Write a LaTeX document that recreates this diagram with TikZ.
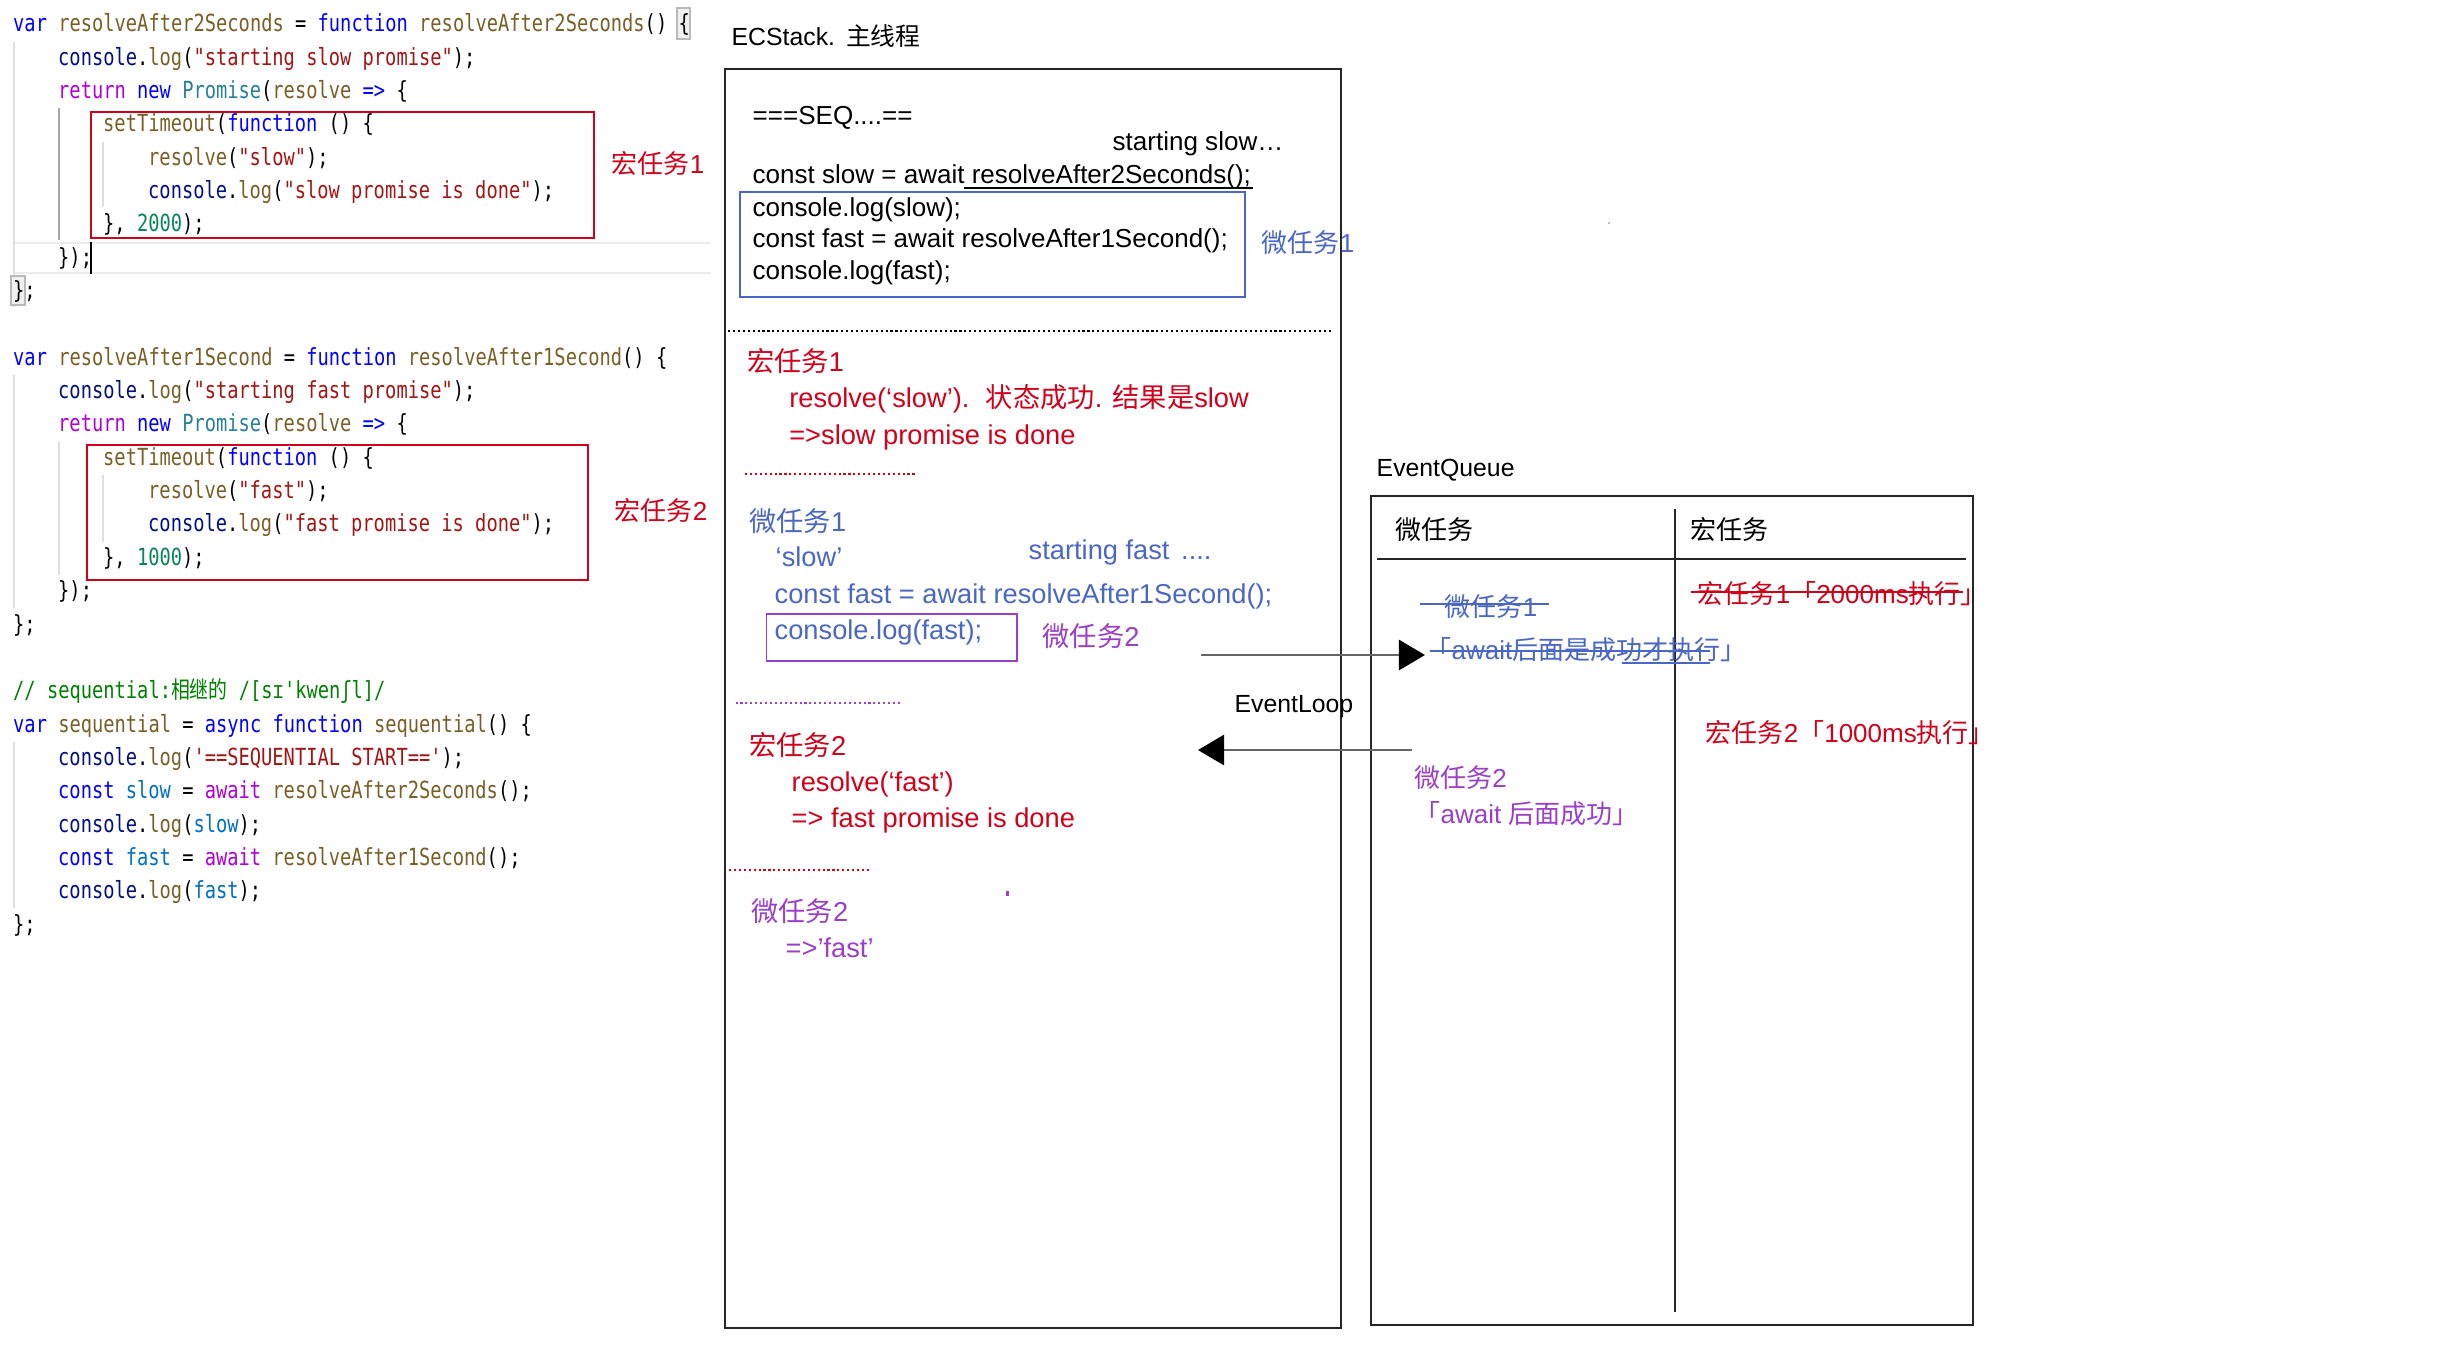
\documentclass[tikz,border=0pt]{standalone}
\usepackage{fontspec}
\usepackage{xcolor}
\usepackage{tikz}
\usetikzlibrary{arrows.meta}
\setmainfont{Liberation Sans}
\newfontfamily\cjk{Noto Sans CJK SC}
\newfontfamily\codefont[FakeStretch=0.795,Ligatures=TeXOff]{DejaVu Sans Mono}
\newfontfamily\codecjk[FakeStretch=0.8]{Noto Sans CJK SC}
\newcommand{\zh}[1]{{\cjk #1}}
\newcommand{\zhc}[1]{{\codecjk #1}}
\definecolor{macroRed}{HTML}{D0021B}
\definecolor{microBlue}{HTML}{4A67C3}
\definecolor{microPurple}{HTML}{9B3FC8}
\definecolor{kwBlue}{HTML}{0000FF}
\definecolor{fnBrown}{HTML}{795E26}
\definecolor{varNavy}{HTML}{001080}
\definecolor{strRed}{HTML}{A31515}
\definecolor{ctlPink}{HTML}{AF00DB}
\definecolor{typeTeal}{HTML}{267F99}
\definecolor{numGreen}{HTML}{098658}
\definecolor{comGreen}{HTML}{008000}
\definecolor{constBlue}{HTML}{0070C1}
\newcommand{\ckw}[1]{\textcolor{kwBlue}{#1}}
\newcommand{\cfn}[1]{\textcolor{fnBrown}{#1}}
\newcommand{\cvar}[1]{\textcolor{varNavy}{#1}}
\newcommand{\cstr}[1]{\textcolor{strRed}{#1}}
\newcommand{\cctl}[1]{\textcolor{ctlPink}{#1}}
\newcommand{\ctype}[1]{\textcolor{typeTeal}{#1}}
\newcommand{\cnum}[1]{\textcolor{numGreen}{#1}}
\newcommand{\ccom}[1]{\textcolor{comGreen}{#1}}
\newcommand{\cconst}[1]{\textcolor{constBlue}{#1}}
\newcommand{\clog}{\cvar{console}.\cfn{log}}

\begin{document}
\begin{tikzpicture}[x=0.01cm,y=-0.01cm,
  font=\fontsize{7.4}{9}\selectfont,
  txt/.style={anchor=west,inner sep=0pt,text height=5.3pt,text depth=0pt},
  note/.style={txt,font=\fontsize{7.75}{9}\selectfont},
  label/.style={txt,font=\fontsize{7.05}{9}\selectfont},
  code/.style={anchor=west,inner sep=0pt,text height=4.6pt,text depth=0pt,
    font=\codefont\fontsize{6.7}{7}\selectfont},
  guide/.style={gray!25,line width=0.4pt},
  sep/.style={line width=0.6pt,dash pattern=on 0.6pt off 0.8pt},
  loop/.style={black!60,line width=0.8pt,-{Triangle[length=0.26cm,width=0.30cm,color=black]}}]
  \def\lh{33.35}
  \def\ly{23.6}
  \fill[white] (0,0) rectangle (2450,1356);
  \useasboundingbox (0,0) rectangle (2450,1356);

  % editor: line highlight, guides, bracket match
  \draw[gray!15,line width=0.8pt] (14,243) -- (711,243) (14,273) -- (711,273);
  \draw[guide] (14,42) -- (14,307) (103,142) -- (103,207);
  \draw[gray!70,line width=0.5pt] (59,108) -- (59,240);
  \draw[guide] (14,375) -- (14,608) (59,442) -- (59,575) (103,475) -- (103,542);
  \draw[guide] (14,742) -- (14,908);
  \draw[gray!55,fill=gray!12,line width=0.4pt] (677,8) rectangle (690,39);
  \draw[gray!55,fill=gray!12,line width=0.4pt] (11,276) rectangle (25,305);
  \draw[black,line width=0.6pt] (91,242) -- (91,274);

  % resolveAfter2Seconds
  \node[code] (l0) at (12.5,\ly+\lh*0) {\ckw{var} \cfn{resolveAfter2Seconds} = \ckw{function} \cfn{resolveAfter2Seconds}() \{};
  \node[code] (l1) at (57.5,\ly+\lh*1) {\clog(\cstr{"starting slow promise"});};
  \node[code] (l2) at (57.5,\ly+\lh*2) {\cctl{return} \ckw{new} \ctype{Promise}(\cfn{resolve} \ckw{=>} \{};
  \node[code] (l3) at (102.5,\ly+\lh*3) {\cfn{setTimeout}(\ckw{function} () \{};
  \node[code] (l4) at (147.5,\ly+\lh*4) {\cfn{resolve}(\cstr{"slow"});};
  \node[code] (l5) at (147.5,\ly+\lh*5) {\clog(\cstr{"slow promise is done"});};
  \node[code] (l6) at (102.5,\ly+\lh*6) {\}, \cnum{2000});};
  \node[code] (l7) at (57.5,\ly+\lh*7) {\});};
  \node[code] (l8) at (12.5,\ly+\lh*8) {\};};
  \draw[macroRed,line width=0.5pt] (91,112) rectangle (594,238);
  \node[txt,text=macroRed] (mt1) at (611,164) {\zh{宏任务}1};

  % resolveAfter1Second
  \node[code] (l10) at (12.5,\ly+\lh*10) {\ckw{var} \cfn{resolveAfter1Second} = \ckw{function} \cfn{resolveAfter1Second}() \{};
  \node[code] (l11) at (57.5,\ly+\lh*11) {\clog(\cstr{"starting fast promise"});};
  \node[code] (l12) at (57.5,\ly+\lh*12) {\cctl{return} \ckw{new} \ctype{Promise}(\cfn{resolve} \ckw{=>} \{};
  \node[code] (l13) at (102.5,\ly+\lh*13) {\cfn{setTimeout}(\ckw{function} () \{};
  \node[code] (l14) at (147.5,\ly+\lh*14) {\cfn{resolve}(\cstr{"fast"});};
  \node[code] (l15) at (147.5,\ly+\lh*15) {\clog(\cstr{"fast promise is done"});};
  \node[code] (l16) at (102.5,\ly+\lh*16) {\}, \cnum{1000});};
  \node[code] (l17) at (57.5,\ly+\lh*17) {\});};
  \node[code] (l18) at (12.5,\ly+\lh*18) {\};};
  \draw[macroRed,line width=0.5pt] (87,445) rectangle (588,580);
  \node[txt,text=macroRed] (mt2) at (614,511) {\zh{宏任务}2};

  % sequential
  \node[code] (l20) at (12.5,\ly+\lh*20) {\ccom{// sequential:\zhc{相继的} /[sɪ'kwenʃl]/}};
  \node[code] (l21) at (12.5,\ly+\lh*21) {\ckw{var} \cfn{sequential} = \ckw{async} \ckw{function} \cfn{sequential}() \{};
  \node[code] (l22) at (57.5,\ly+\lh*22) {\clog(\cstr{'==SEQUENTIAL START=='});};
  \node[code] (l23) at (57.5,\ly+\lh*23) {\ckw{const} \cconst{slow} = \cctl{await} \cfn{resolveAfter2Seconds}();};
  \node[code] (l24) at (57.5,\ly+\lh*24) {\clog(\cconst{slow});};
  \node[code] (l25) at (57.5,\ly+\lh*25) {\ckw{const} \cconst{fast} = \cctl{await} \cfn{resolveAfter1Second}();};
  \node[code] (l26) at (57.5,\ly+\lh*26) {\clog(\cconst{fast});};
  \node[code] (l27) at (12.5,\ly+\lh*27) {\};};

  % ECStack
  \node[label] (ectitle) at (731,36) {ECStack.\hspace{0.45em}\zh{主线程}};
  \draw[black!85,line width=0.6pt] (725,69) rectangle (1341,1328);
  \node[txt] (seq) at (752,115) {===SEQ....==};
  \node[txt] (slowlog) at (1112,141) {starting slow…};
  \node[txt] (awslow) at (752,174) {const slow = await resolveAfter2Seconds();};
  \draw[line width=0.5pt] (964,188) -- (1253,188);
  \draw[microBlue,line width=0.5pt] (740,192) rectangle (1245,297);
  \node[txt] (s1) at (752,207) {console.log(slow);};
  \node[txt] (s2) at (752,238) {const fast = await resolveAfter1Second();};
  \node[txt] (s3) at (752,270) {console.log(fast);};
  \node[txt,text=microBlue] (mi1tag) at (1261,243) {\zh{微任务}1};
  \draw[sep] (728,331) -- (1331,331);

  \node[note,text=macroRed] (ma1) at (746.5,362) {\zh{宏任务}1};
  \node[note,text=macroRed] (ma1a) at (788.6,398) {resolve(‘slow’).\hspace{0.6em}\zh{状态成功}. \zh{结果是}slow};
  \node[note,text=macroRed] (ma1b) at (788.6,435) {=>slow promise is done};
  \draw[sep,macroRed] (745,474) -- (916,474);

  \node[note,text=microBlue] (mi1) at (748.6,522) {\zh{微任务}1};
  \node[note,text=microBlue] (mi1a) at (775,557) {‘slow’};
  \node[note,text=microBlue] (fastlog) at (1028,550) {starting fast \hspace{0.15em}....};
  \node[note,text=microBlue] (mi1b) at (774,594) {const fast = await resolveAfter1Second();};
  \draw[microPurple,line width=0.5pt] (766.5,614) rectangle (1017,661);
  \node[note,text=microBlue] (mi1c) at (774,630) {console.log(fast);};
  \node[note,text=microPurple] (mi2tag) at (1042,637) {\zh{微任务}2};
  \draw[sep,microPurple] (735.5,703) -- (901,703);

  \node[note,text=macroRed] (ma2) at (748.6,746) {\zh{宏任务}2};
  \node[note,text=macroRed] (ma2a) at (791,782) {resolve(‘fast’)};
  \node[note,text=macroRed] (ma2b) at (791,818) {=> fast promise is done};
  \draw[sep,macroRed] (729,870) -- (870,870);
  \fill[microPurple] (1006,891) rectangle (1008.5,896);

  \node[note,text=microPurple] (mi2) at (750.6,912) {\zh{微任务}2};
  \node[note,text=microPurple] (mi2a) at (785,948) {=>’fast’};

  % EventLoop
  \node[label] (evloop) at (1234,703) {EventLoop};

  % EventQueue
  \node[label] (evqueue) at (1376,467) {EventQueue};
  \draw[black!85,line width=0.6pt] (1371,496) rectangle (1973,1325);
  \draw[black!85,line width=0.5pt] (1675,509) -- (1675,1312);
  \draw[black!85,line width=0.6pt] (1377,559) -- (1966,559);
  \node[txt] (qmicro) at (1395,530) {\zh{微任务}};
  \node[txt] (qmacro) at (1690,530) {\zh{宏任务}};

  \node[txt,text=microBlue] (qmi1) at (1444,607) {\zh{微任务}1};
  \draw[microBlue,line width=0.5pt] (1420,604) -- (1549,604);
  \node[txt,text=microBlue] (qaw1) at (1425,650) {\zh{「}await\zh{后面是成功才执行」}};
  \draw[microBlue,line width=0.5pt] (1430,651) -- (1710,651) (1622,663) -- (1710,663);

  \node[txt,text=macroRed] (qma1) at (1697,594) {\zh{宏任务}1\zh{「}2000ms\zh{执行」}};
  \draw[macroRed,line width=0.5pt] (1691,592) -- (1963,592);
  \node[txt,text=macroRed] (qma2) at (1705,733) {\zh{宏任务}2\zh{「}1000ms\zh{执行」}};

  \node[txt,text=microPurple] (qmi2) at (1413.6,778) {\zh{微任务}2};
  \node[txt,text=microPurple] (qaw2) at (1414,814) {\zh{「}await \zh{后面成功」}};

  \fill[gray!50] (1608,222) rectangle (1610,224);

  % event loop arrows
  \coordinate (loopA) at (1201,655);
  \coordinate (loopB) at (1412,750);
  \coordinate (loopC) at (1198,750);
  \draw[loop] (loopA) -- (loopA -| qaw1.west);
  \draw[loop] (loopB) -- (loopC);
\end{tikzpicture}
\end{document}
